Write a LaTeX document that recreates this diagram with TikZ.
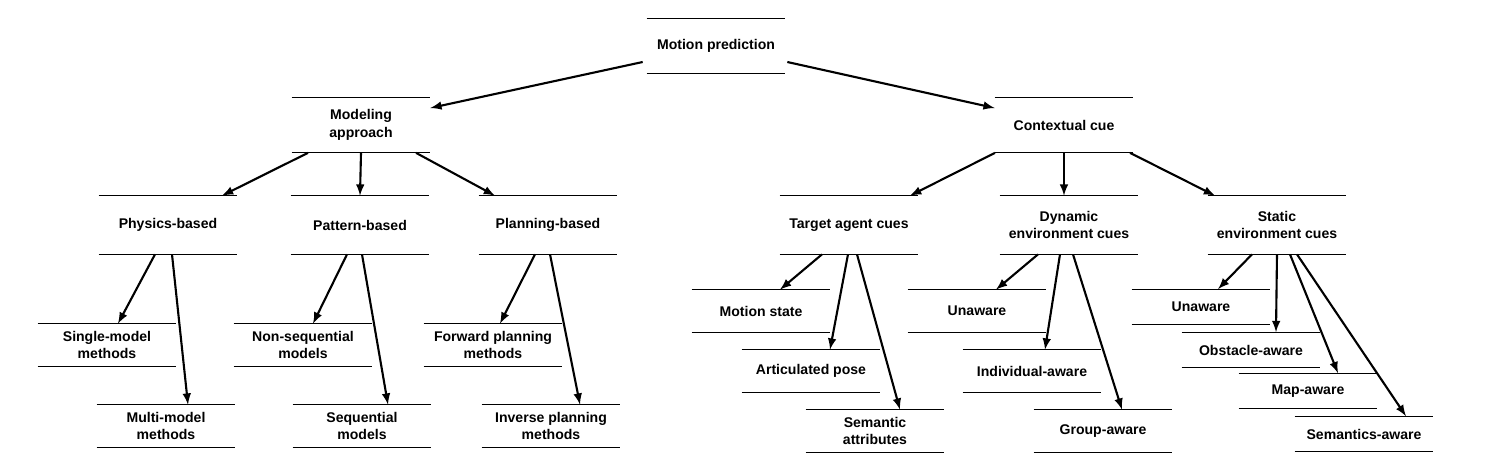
\documentclass[tikz,border=0pt]{standalone}
\usepackage{fontspec}
\setmainfont{Liberation Sans}
\usetikzlibrary{calc}

\begin{document}
\begin{tikzpicture}[x=0.02cm, y=-0.02cm,
  cat/.style={inner sep=0, minimum width=2.76cm, minimum height=1.1cm, align=center, font=\fontsize{8}{10}\selectfont\bfseries},
  leaf/.style={cat, minimum height=0.84cm},
  sleaf/.style={cat, minimum height=0.7cm},
  arr/.style={line width=1.2pt, -latex}]
  \useasboundingbox (0,0) rectangle (1492,474);
  % levels 0 and 1
  \node[cat] (mp)  at (716,46)  {Motion prediction};
  \node[cat] (mod) at (361,125) {Modeling\\approach};
  \node[cat] (ctx) at (1064,125) {Contextual cue};
  % level 2
  \node[cat, minimum height=1.16cm] (phys) at (168,225) {Physics-based};
  \node[cat, minimum height=1.16cm] (patt) at (360,225) {Pattern-based};
  \node[cat, minimum height=1.16cm] (plan) at (548,225) {Planning-based};
  \node[cat, minimum height=1.16cm] (tgt)  at (849,225) {Target agent cues};
  \node[cat, minimum height=1.16cm] (dyn)  at (1069,225) {Dynamic\\environment cues};
  \node[cat, minimum height=1.16cm] (sta)  at (1277,225) {Static\\environment cues};
  % leaves
  \node[leaf] (single) at (107,345) {Single-model\\methods};
  \node[leaf] (multi)  at (166,426) {Multi-model\\methods};
  \node[leaf] (nonseq) at (303,345) {Non-sequential\\models};
  \node[leaf] (seq)    at (362,426) {Sequential\\models};
  \node[leaf] (fwd)    at (493,345) {Forward planning\\methods};
  \node[leaf] (inv)    at (551,426) {Inverse planning\\methods};
  \node[leaf] (mstate) at (761,311) {Motion state};
  \node[leaf] (artic)  at (811,371) {Articulated pose};
  \node[leaf] (sem)    at (875,431) {Semantic\\attributes};
  \node[leaf] (dunaw)  at (977,311) {Unaware};
  \node[leaf] (indiv)  at (1032,371) {Individual-aware};
  \node[leaf] (group)  at (1103,431) {Group-aware};
  \node[sleaf] (sunaw) at (1201,307) {Unaware};
  \node[sleaf] (obst)  at (1251,350) {Obstacle-aware};
  \node[sleaf] (map)   at (1308,391) {Map-aware};
  \node[sleaf] (semaw) at (1364,434) {Semantics-aware};
  % rules above and below each category
  \foreach \n in {mp,mod,ctx,phys,patt,plan,tgt,dyn,sta,single,multi,nonseq,seq,fwd,inv,mstate,artic,sem,dunaw,indiv,group,sunaw,obst,map,semaw}
    \draw[line width=0.7pt] (\n.north west) -- (\n.north east) (\n.south west) -- (\n.south east);
  % arrows
  \draw[arr] ($(mp.west)+(-4,16)$) -- ($(mod.east)+(0,-17)$);
  \draw[arr] ($(mp.east)+(2,16)$) -- ($(ctx.west)+(0,-17)$);
  \draw[arr] ($(mod.south)+(-53,0)$) -- ($(phys.north)+(54,0)$);
  \draw[arr] (mod.south) -- (patt.north);
  \draw[arr] ($(mod.south)+(55,0)$) -- ($(plan.north)+(-53,0)$);
  \draw[arr] ($(ctx.south)+(-69,0)$) -- ($(tgt.north)+(61,0)$);
  \draw[arr] (ctx.south) -- ($(dyn.north)+(-5,0)$);
  \draw[arr] ($(ctx.south)+(66,0)$) -- ($(sta.north)+(-62,0)$);
  \draw[arr] ($(phys.south)+(-13,0)$) -- ($(single.north)+(11,0)$);
  \draw[arr] ($(phys.south)+(4,0)$) -- ($(multi.north)+(22,0)$);
  \draw[arr] ($(patt.south)+(-13,0)$) -- ($(nonseq.north)+(10,0)$);
  \draw[arr] ($(patt.south)+(2,0)$) -- ($(seq.north)+(26,0)$);
  \draw[arr] ($(plan.south)+(-13,0)$) -- ($(fwd.north)+(7,0)$);
  \draw[arr] ($(plan.south)+(2,0)$) -- ($(inv.north)+(29,0)$);
  \draw[arr] ($(tgt.south)+(-27,0)$) -- ($(mstate.north)+(19,0)$);
  \draw[arr] ($(tgt.south)+(-1,0)$) -- ($(artic.north)+(19,0)$);
  \draw[arr] ($(tgt.south)+(8,0)$) -- ($(sem.north)+(25,0)$);
  \draw[arr] ($(dyn.south)+(-31,0)$) -- ($(dunaw.north)+(19,0)$);
  \draw[arr] ($(dyn.south)+(-9,0)$) -- ($(indiv.north)+(13,0)$);
  \draw[arr] ($(dyn.south)+(4,0)$) -- ($(group.north)+(19,0)$);
  \draw[arr] ($(sta.south)+(-25,0)$) -- ($(sunaw.north)+(17,0)$);
  \draw[arr] (sta.south) -- ($(obst.north)+(25,0)$);
  \draw[arr] ($(sta.south)+(13,0)$) -- ($(map.north)+(30,0)$);
  \draw[arr] ($(sta.south)+(20,0)$) -- ($(semaw.north)+(42,0)$);
\end{tikzpicture}
\end{document}
